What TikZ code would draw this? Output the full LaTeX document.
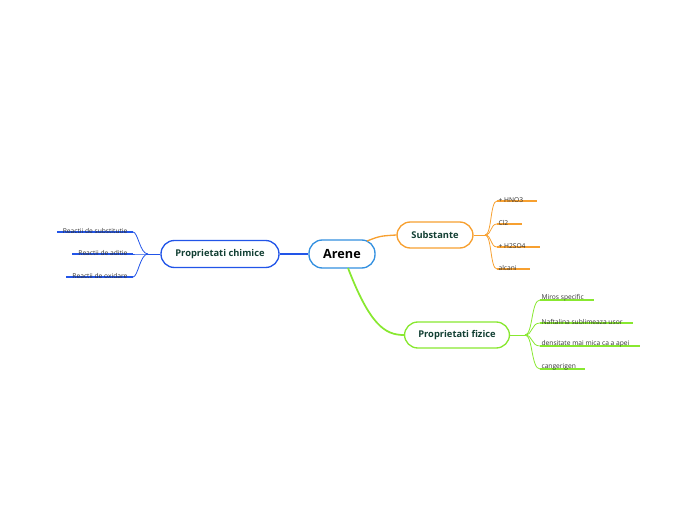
\documentclass[tikz,border=0pt]{standalone}
\usepackage{fontspec}
\setmainfont{Open Sans}
\definecolor{cblue}{HTML}{2255E8}
\definecolor{corange}{HTML}{F7A030}
\definecolor{cgreen}{HTML}{88E830}
\definecolor{cmain}{HTML}{3390E0}
\definecolor{ctext}{HTML}{123F33}
\begin{document}
\begin{tikzpicture}[x=0.75pt,y=-0.75pt,
  topic/.style={draw,line width=1pt,rounded corners=10pt,fill=white,text=ctext,font=\bfseries\fontsize{7}{8}\selectfont,inner sep=0pt},
  leaf/.style={anchor=south west,font=\fontsize{5}{6}\selectfont,inner sep=1pt,text=black!80},
  ul/.style={line width=1.2pt}]
\useasboundingbox (0,0) rectangle (697,520);
% center
\node[topic,draw=cmain,text=black,font=\bfseries\fontsize{9.5}{11}\selectfont,minimum width=66*0.75pt,minimum height=28*0.75pt] (ar) at (342,254) {Arene};
\node[topic,draw=corange,minimum width=76*0.75pt,minimum height=26*0.75pt] (su) at (435,235) {Substante};
\node[topic,draw=cgreen,minimum width=105*0.75pt,minimum height=26*0.75pt] (pf) at (457,335) {Proprietati fizice};
\node[topic,draw=cblue,minimum width=118*0.75pt,minimum height=27*0.75pt] (pc) at (220,254) {Proprietati chimice};
% main connectors
\draw[corange,line width=1pt] (367,241) .. controls (380,236) .. (su.west);
\draw[cgreen,line width=1.3pt] (348,268) .. controls (370,325) and (385,335) .. (pf.west);
\draw[cblue,line width=1pt] (ar.west) -- (pc.east);
% Substante leaves
\coordinate (sj) at (485,235);
\draw[corange,line width=0.6pt] (su.east) -- (sj);
\foreach \y/\w/\t/\n in {201/40/+ HNO3/s1,224/25/Cl2/s2,247/43/+ H2SO4/s3,269/33/alcani/s4}{
  \coordinate (\n) at (497,\y);
  \draw[corange,line width=0.6pt] (sj) .. controls (492,235) and (490,\y) .. (\n);
  \draw[corange,ul] (\n) -- ++(\w,0);
  \node[leaf] (\n t) at ([yshift=-3*0.75pt]\n) {\t};
}
% Fizice leaves
\coordinate (fj) at (525,335);
\draw[cgreen,line width=0.6pt] (pf.east) -- (fj);
\foreach \y/\w/\t/\n in {300/54/Miros specific/f1,323/93/Naftalina sublimeaza usor/f2,346/100/densitate mai mica ca a apei/f3,369/45/cangerigen/f4}{
  \coordinate (\n) at (540,\y);
  \draw[cgreen,line width=0.6pt] (fj) .. controls (533,335) and (531,\y) .. (\n);
  \draw[cgreen,ul] (\n) -- ++(\w,0);
  \node[leaf] (\n t) at ([yshift=-3*0.75pt]\n) {\t};
}
% Chimice leaves
\coordinate (cj) at (148,254);
\draw[cblue,line width=0.6pt] (pc.west) -- (cj);
\foreach \y/\w/\t/\n in {232/76/Reactii de substitutie/c1,254/61/Reactii de aditie/c2,277/67/Reactii de oxidare/c3}{
  \coordinate (\n) at (133,\y);
  \draw[cblue,line width=0.6pt] (cj) .. controls (140,254) and (138,\y) .. (\n);
  \draw[cblue,ul] (\n) -- ++(-\w,0);
  \node[leaf,anchor=south east] (\n t) at ([yshift=-3*0.75pt,xshift=-4*0.75pt]\n) {\t};
}
\end{tikzpicture}
\end{document}
